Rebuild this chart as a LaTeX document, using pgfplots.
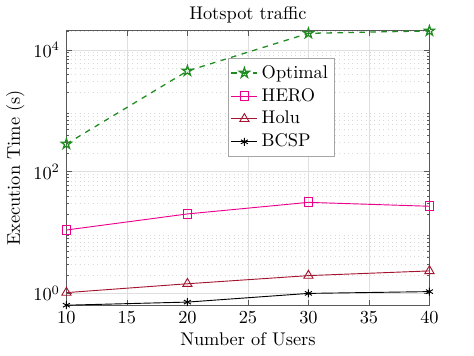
\documentclass[border=0pt]{standalone}
\usepackage{pgfplots}
\pgfplotsset{compat=1.18}
\definecolor{optg}{rgb}{0.13,0.55,0.13}
\definecolor{holu}{rgb}{0.64,0.08,0.18}
\pgfdeclareplotmark{pentagram}{%
  \pgfpathmoveto{\pgfqpointpolar{90}{1.3\pgfplotmarksize}}%
  \pgfpathlineto{\pgfqpointpolar{126}{0.5\pgfplotmarksize}}%
  \pgfpathlineto{\pgfqpointpolar{162}{1.3\pgfplotmarksize}}%
  \pgfpathlineto{\pgfqpointpolar{198}{0.5\pgfplotmarksize}}%
  \pgfpathlineto{\pgfqpointpolar{234}{1.3\pgfplotmarksize}}%
  \pgfpathlineto{\pgfqpointpolar{270}{0.5\pgfplotmarksize}}%
  \pgfpathlineto{\pgfqpointpolar{306}{1.3\pgfplotmarksize}}%
  \pgfpathlineto{\pgfqpointpolar{342}{0.5\pgfplotmarksize}}%
  \pgfpathlineto{\pgfqpointpolar{18}{1.3\pgfplotmarksize}}%
  \pgfpathlineto{\pgfqpointpolar{54}{0.5\pgfplotmarksize}}%
  \pgfpathclose
  \pgfusepathqstroke}
\begin{document}
\begin{tikzpicture}
\begin{axis}[
  scale only axis,
  width=198pt, height=149.6pt,
  xmin=10, xmax=40,
  ymode=log, ymin=0.64, ymax=20500,
  xtick={10,15,...,40},
  ytick={1,100,10000},
  minor ytick={2,3,4,5,6,7,8,9,20,30,40,50,60,70,80,90,200,300,400,500,600,700,800,900,2000,3000,4000,5000,6000,7000,8000,9000,20000},
  tick align=inside,
  major tick length=3pt, minor tick length=1.5pt,
  xmajorgrids, ymajorgrids, yminorgrids,
  major grid style={gray!25, line width=0.4pt},
  minor grid style={gray!30, dotted, line width=0.4pt},
  axis line style={gray!70!black, line width=0.5pt},
  tick style={gray!70!black},
  title={Hotspot traffic},
  title style={yshift=-5pt},
  xlabel={Number of Users},
  ylabel={Execution Time (s)},
  xlabel style={yshift=2pt},
  ylabel style={yshift=-2pt},
  legend style={at={(0.444,0.9)}, anchor=north west, draw=gray!70, fill=white, inner sep=1.5pt, row sep=0pt, font=\normalsize},
  legend cell align=left,
  legend image code/.code={\draw[mark repeat=2,mark phase=2,#1] plot coordinates {(0cm,0cm) (0.25cm,0cm) (0.5cm,0cm)};},
]
\addplot[optg, dashed, line width=0.7pt, mark=pentagram, mark size=2.2pt, mark options={solid}] coordinates {
(10,285) (20,4500) (30,18700) (40,20500)};
\addlegendentry{Optimal}
\addplot[magenta, line width=0.5pt, mark=square, mark size=2.4pt, mark options={solid}] coordinates {
(10,11) (20,20.2) (30,31.3) (40,27)};
\addlegendentry{HERO}
\addplot[holu, line width=0.5pt, mark=triangle, mark size=2.9pt, mark options={solid}] coordinates {
(10,1.03) (20,1.44) (30,1.96) (40,2.34)};
\addlegendentry{Holu}
\addplot[black, line width=0.5pt, mark=asterisk, mark size=2.2pt, mark options={solid}] coordinates {
(10,0.64) (20,0.72) (30,1.0) (40,1.07)};
\addlegendentry{BCSP}
\end{axis}
\path[use as bounding box] ([shift={(-33.5pt,-27.5pt)}]current axis.south west) rectangle ([shift={(24.3pt,15.1pt)}]current axis.north east);
\end{tikzpicture}
\end{document}
